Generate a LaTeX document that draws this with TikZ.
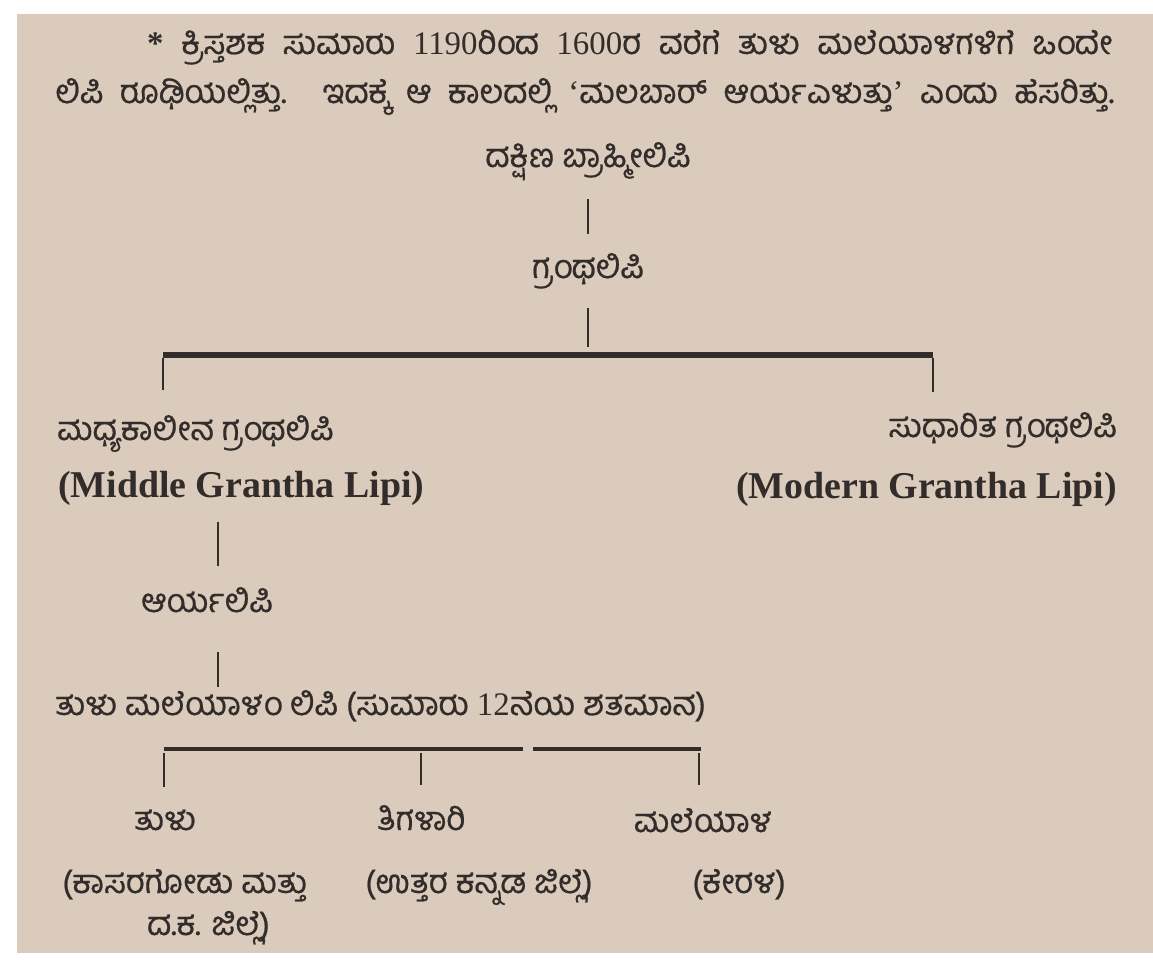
\documentclass[tikz,border=0pt]{standalone}
\usepackage{fontspec}
\setmainfont{Liberation Serif}
\newfontfamily\kn[Script=Kannada, FakeBold=0.6]{Hind Mysuru}
\newfontfamily\lat{Liberation Serif}
\definecolor{paper}{RGB}{219,203,188}
\definecolor{ink}{RGB}{50,44,42}
\tikzset{
  kt/.style={font=\kn\fontsize{33}{38}\selectfont, text=ink, inner sep=0pt, anchor=base},
  ltx/.style={font=\lat\bfseries\fontsize{38}{44}\selectfont, text=ink, inner sep=0pt, anchor=base},
  vl/.style={draw=ink, line width=2.6bp},
  bar/.style={draw=ink, line width=6bp},
  barb/.style={draw=ink, line width=4.5bp}
}
\begin{document}
\begin{tikzpicture}[x=1bp,y=-1bp]
\useasboundingbox (0,0) rectangle (1153,967);
\fill[white] (0,0) rectangle (1153,967);
\fill[paper] (17,14) rectangle (1153,953);

% header lines
\node[kt, anchor=base west] (l1) at (147,54) {\makebox[965bp][s]{{\lat\bfseries *} ಕ್ರಿಸ್ತಶಕ ಸುಮಾರು {\lat 1190}ರಿಂದ {\lat 1600}ರ ವರೆಗೆ ತುಳು ಮಲೆಯಾಳಗಳಿಗೆ ಒಂದೇ}};
\node[kt, anchor=base west] (l2) at (55,103) {\makebox[1059bp][s]{ಲಿಪಿ ರೂಢಿಯಲ್ಲಿತ್ತು. ಇದಕ್ಕೆ ಆ ಕಾಲದಲ್ಲಿ {\lat ‘}ಮಲಬಾರ್ ಆರ್ಯಎಳುತ್ತು{\lat ’} ಎಂದು ಹೆಸರಿತ್ತು.}};

% tree nodes
\node[kt] (dak) at (588,167) {ದಕ್ಷಿಣ ಬ್ರಾಹ್ಮೀಲಿಪಿ};
\node[kt] (gra) at (588,278) {ಗ್ರಂಥಲಿಪಿ};
\node[kt, anchor=base west] (mad) at (57,440) {ಮಧ್ಯಕಾಲೀನ ಗ್ರಂಥಲಿಪಿ};
\node[ltx, anchor=base west] (midL) at (58,497) {(Middle Grantha Lipi)};
\node[kt, anchor=base east] (sud) at (1117,437) {ಸುಧಾರಿತ ಗ್ರಂಥಲಿಪಿ};
\node[ltx, anchor=base east] (modL) at (1117,498) {(Modern Grantha Lipi)};
\node[kt] (arya) at (207,612) {ಆರ್ಯಲಿಪಿ};
\node[kt, anchor=base west] (tm) at (55,715) {ತುಳು ಮಲೆಯಾಳಂ ಲಿಪಿ (ಸುಮಾರು {\lat 12}ನೆಯ ಶತಮಾನ)};
\node[kt] (tulu) at (165,830) {ತುಳು};
\node[kt] (tig) at (421,830) {ತಿಗಳಾರಿ};
\node[kt] (mal) at (703,832) {ಮಲೆಯಾಳ};
\node[kt, anchor=base west] (tulu2) at (62,893) {(ಕಾಸರಗೋಡು ಮತ್ತು};
\node[kt, anchor=base west] (tulu3) at (147,935) {ದ.ಕ. ಜಿಲ್ಲೆ)};
\node[kt, anchor=base west] (tig2) at (365,893) {(ಉತ್ತರ ಕನ್ನಡ ಜಿಲ್ಲೆ)};
\node[kt, anchor=base west] (mal2) at (692,893) {(ಕೇರಳ)};

% bar coordinates
\coordinate (b1) at (588,355);
\coordinate (b1L) at (163,355);
\coordinate (b1R) at (933,355);
\coordinate (b2L) at (164,749);
\coordinate (b2M) at (523,749);
\coordinate (b2N) at (533,749);
\coordinate (b2T) at (421,749);
\coordinate (b2R) at (701,749);

% connectors
\draw[vl, shorten <=32bp, shorten >=44bp] (dak.base) -- (gra.base);
\draw[vl, shorten <=30bp, shorten >=8bp] (gra.base) -- (b1);
\draw[bar] (b1L) -- (b1R);
\draw[vl, shorten <=3bp, shorten >=50bp] (b1L) -- (b1L |- mad.base);
\draw[vl, shorten <=3bp, shorten >=45bp] (b1R) -- (b1R |- sud.base);
\draw[vl, shorten <=25bp, shorten >=46bp] ([xshift=11bp]arya.base |- midL.base) -- ([xshift=11bp]arya.base);
\draw[vl, shorten <=40bp, shorten >=28bp] ([xshift=11bp]arya.base) -- ([xshift=11bp]arya.base |- tm.base);
\draw[barb] (b2L) -- (b2M);
\draw[barb] (b2N) -- (b2R);
\draw[vl, shorten <=4bp, shorten >=43bp] (b2L) -- (b2L |- tulu.base);
\draw[vl, shorten <=4bp, shorten >=45bp] (b2T) -- (tig.base);
\draw[vl, shorten <=4bp, shorten >=47bp] ([xshift=-2bp]b2R) -- ([xshift=-2bp]b2R |- mal.base);
\end{tikzpicture}
\end{document}
